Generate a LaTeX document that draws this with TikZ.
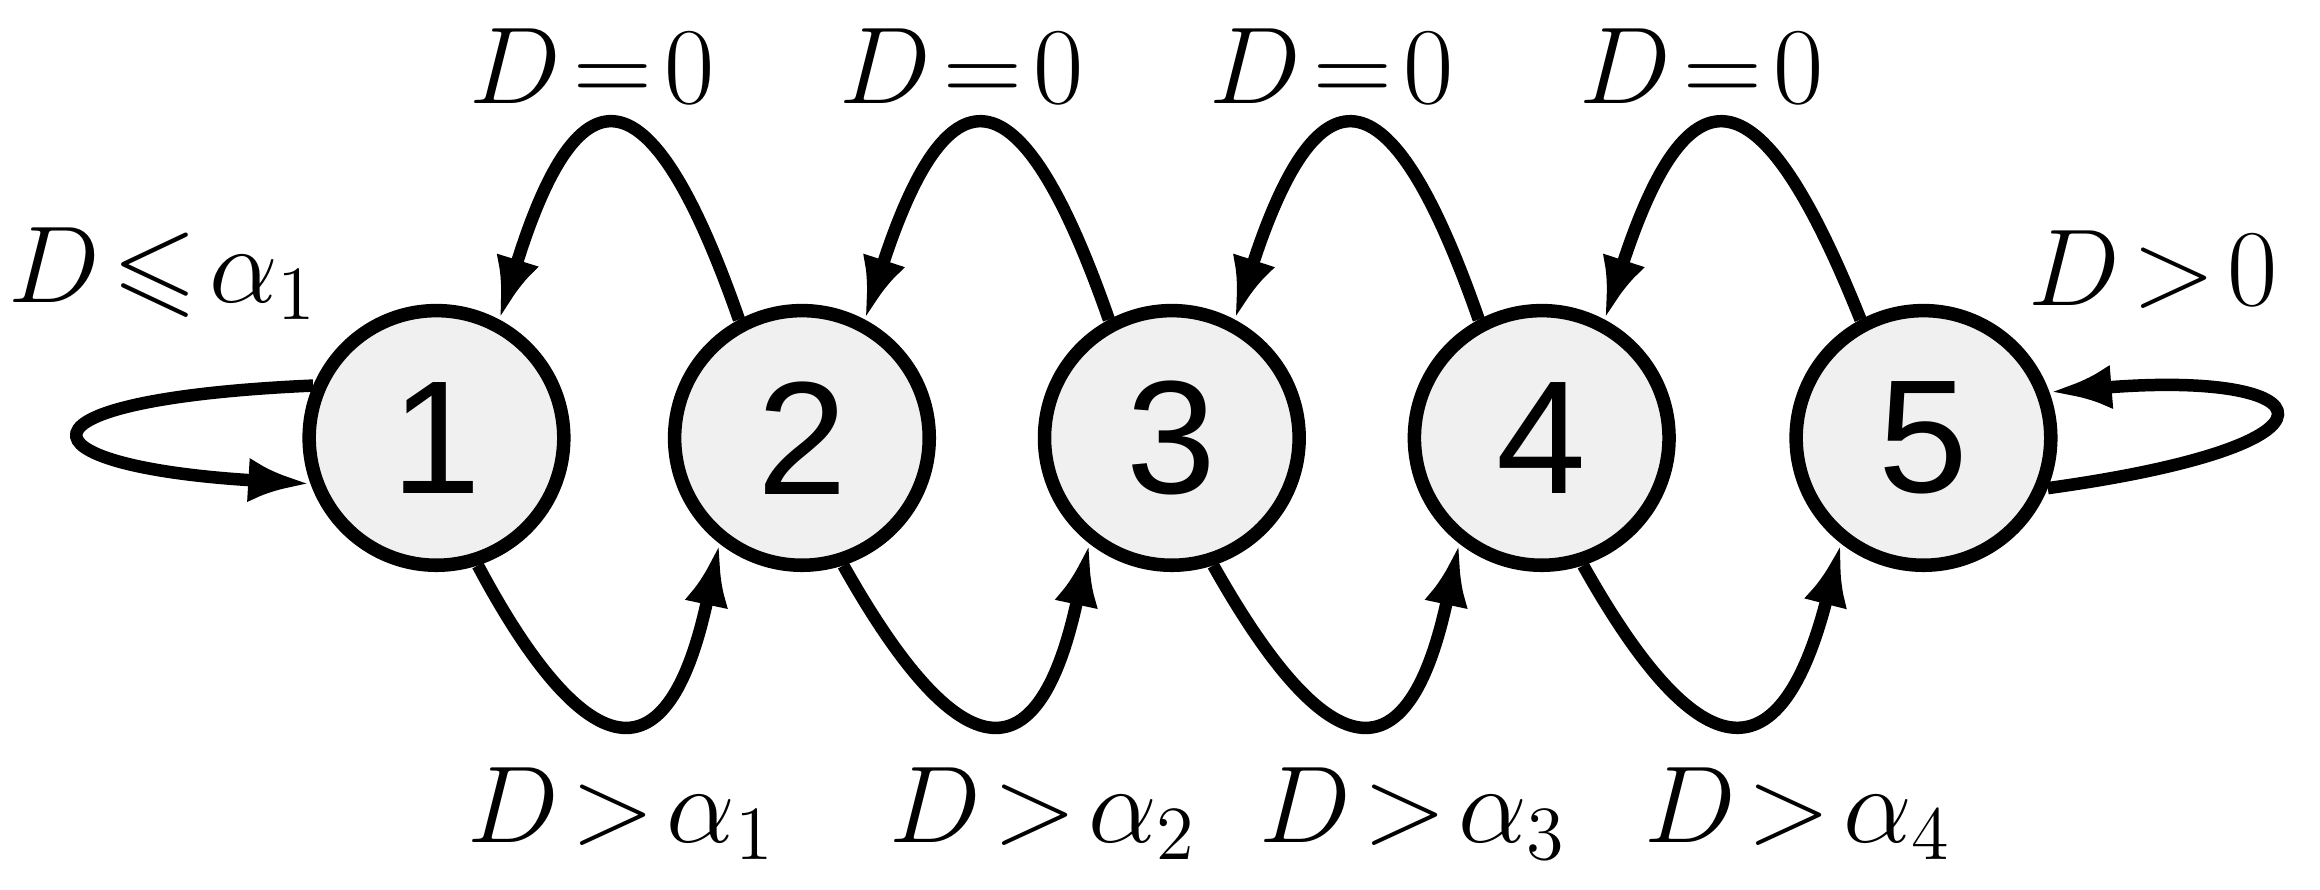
\documentclass[tikz,border=0pt]{standalone}
\usepackage{fix-cm}
\usepackage{amssymb}
\usepackage{fontspec}
\setmainfont{Liberation Serif}
\newfontfamily\numfont{Liberation Sans}
\usetikzlibrary{arrows.meta}
\tikzset{
  st/.style={circle,draw,line width=2.6pt,fill=gray!12,minimum size=1.72cm,inner sep=0pt,font=\numfont\fontsize{31}{31}\selectfont},
  ar/.style={line width=2.4pt,-{Latex[length=0.42cm,width=0.3cm]}},
  lb/.style={font=\fontsize{21}{21}\selectfont}
}
\begin{document}
\begin{tikzpicture}[x=0.01cm,y=-0.01cm]
\useasboundingbox (0,0) rectangle (1568,601);
\foreach \i/\x in {1/295,2/542,3/792,4/1042,5/1300}{
  \node[st] (n\i) at (\x,296) {\i};
}
\foreach \a/\b/\dx in {1/2/0,2/3/250,3/4/500,4/5/750}{
  \draw[ar] (n\b.118) .. controls ({445+\dx},60) and ({395+\dx},30) .. (n\a.62);
  \draw[ar] (n\a.-72) .. controls ({375+\dx},480) and ({445+\dx},560) .. (n\b.-128);
}
\draw[ar] (n1.157) .. controls (0,270) and (10,315) .. (n1.-160);
\draw[ar] (n5.-22) .. controls (1600,300) and (1570,250) .. (n5.20);
\foreach \dx in {0,250,500,750}{
  \node[lb] (t\dx) at ({400+\dx},45) {$D\!=\!0$};
}
\node[lb] (b1) at (420,550) {$D\!>\!\alpha_1$};
\node[lb] (b2) at (705,550) {$D\!>\!\alpha_2$};
\node[lb] (b3) at (955,550) {$D\!>\!\alpha_3$};
\node[lb] (b4) at (1215,550) {$D\!>\!\alpha_4$};
\node[lb] (l1) at (110,185) {$D\!\leqslant\!\alpha_1$};
\node[lb] (l5) at (1455,182) {$D\!>\!0$};
\end{tikzpicture}
\end{document}
